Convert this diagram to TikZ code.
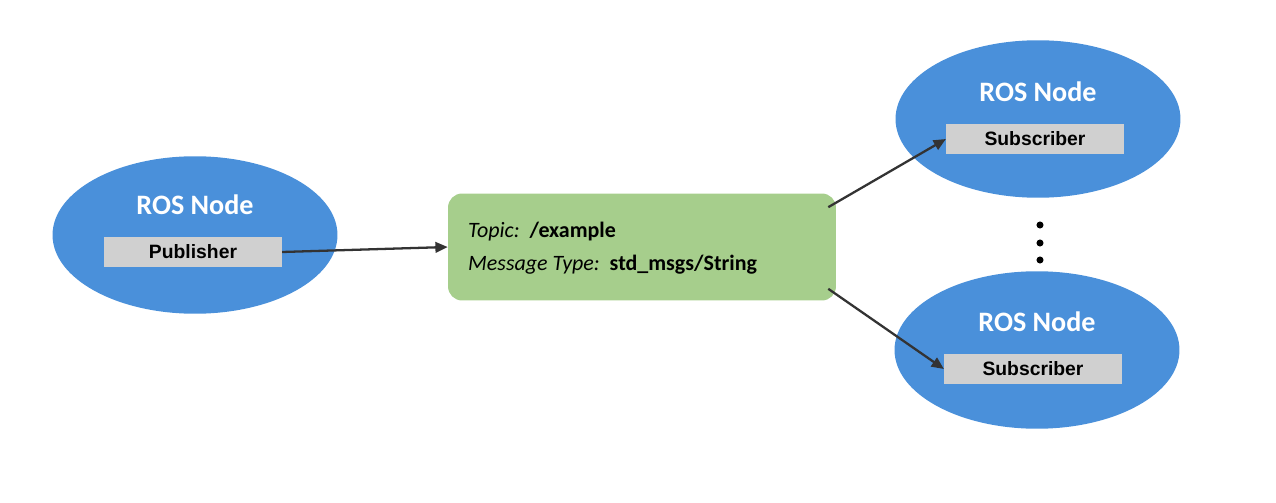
\documentclass[tikz,border=0pt]{standalone}
\usepackage{fontspec}
\setmainfont{Carlito}
\newfontfamily\arialf{Liberation Sans}
\usetikzlibrary{shapes.geometric,arrows.meta}
\definecolor{rosblue}{RGB}{74,144,218}
\definecolor{topicgreen}{RGB}{166,206,140}
\definecolor{subgrey}{RGB}{208,208,208}
\tikzset{
  rosnode/.style={ellipse,fill=rosblue,minimum width=5.7cm,minimum height=3.15cm,inner sep=0pt},
  roslabel/.style={text=white,font=\fontsize{16}{18}\selectfont\bfseries},
  rolebox/.style={fill=subgrey,minimum width=3.55cm,minimum height=0.6cm,inner sep=0pt,font=\arialf\fontsize{11}{12}\selectfont\bfseries},
  topicbox/.style={rounded corners=8pt,fill=topicgreen,minimum width=7.76cm,minimum height=2.14cm},
  conn/.style={-{Triangle[length=7pt,width=6pt]},line width=1.3pt,draw=black!80},
  dot/.style={circle,fill=black,inner sep=0pt,minimum size=4pt}
}
\begin{document}
\begin{tikzpicture}[x=0.02cm,y=-0.02cm]
\useasboundingbox (0,0) rectangle (1276,503);
\node[rosnode] (pubn) at (195,235) {};
\node[roslabel] (pubt) at (195,205) {ROS Node};
\node[rolebox] (pub) at (193,252) {Publisher};
\node[topicbox] (topic) at (642,247) {};
\node[anchor=west,font=\fontsize{12.5}{15}\selectfont] (t1) at (462,232) {\textit{Topic:}\ \ \textbf{/example}};
\node[anchor=west,font=\fontsize{12.5}{15}\selectfont] (t2) at (462,265) {\textit{Message Type:}\ \ \textbf{std\_msgs/String}};
\node[rosnode] (s1n) at (1038,119) {};
\node[roslabel] (s1t) at (1038,92) {ROS Node};
\node[rolebox] (s1) at (1035,139) {Subscriber};
\node[rosnode] (s2n) at (1037,350) {};
\node[roslabel] (s2t) at (1037,322) {ROS Node};
\node[rolebox] (s2) at (1033,369) {Subscriber};
\node[dot] (d1) at (1040,225) {};
\node[dot] (d2) at (1040,243) {};
\node[dot] (d3) at (1040,260) {};
\draw[conn] (pub.east) -- (topic.west);
\draw[conn] (topic.north east) ++(-8,14) coordinate (a1) (a1) -- (s1.west);
\draw[conn] (topic.south east) ++(-8,-12) coordinate (a2) (a2) -- (s2.west);
\end{tikzpicture}
\end{document}
